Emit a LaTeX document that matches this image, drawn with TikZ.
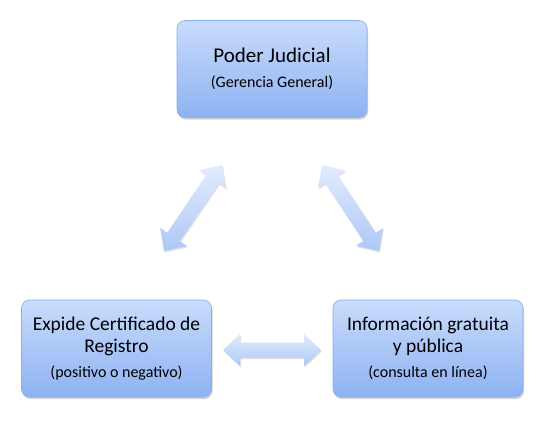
\documentclass[tikz,border=0pt]{standalone}
\usepackage{fontspec}
\setmainfont{Carlito}
\usepackage{tikz}
\usetikzlibrary{calc, shadows}
\definecolor{boxtop}{HTML}{C9DCFC}
\definecolor{boxbot}{HTML}{8DB2F2}
\definecolor{boxline}{HTML}{8AAEE6}
\definecolor{arrtop}{HTML}{E2ECFD}
\definecolor{arrbot}{HTML}{ADC8F5}
\newcommand{\fatarrow}[2]{%
    \path[top color=arrtop, bottom color=arrbot, drop shadow={opacity=0.25, shadow xshift=1pt, shadow yshift=-1.5pt}]
        (#1) -- ($(#1)!17pt!(#2)!16pt!90:(#2)$) -- ($(#1)!17pt!(#2)!7.5pt!90:(#2)$)
        -- ($(#2)!17pt!(#1)!7.5pt!-90:(#1)$) -- ($(#2)!17pt!(#1)!16pt!-90:(#1)$) -- (#2)
        -- ($(#2)!17pt!(#1)!16pt!90:(#1)$) -- ($(#2)!17pt!(#1)!7.5pt!90:(#1)$)
        -- ($(#1)!17pt!(#2)!7.5pt!-90:(#2)$) -- ($(#1)!17pt!(#2)!16pt!-90:(#2)$) -- cycle;}
\newcommand{\subline}[1]{{\fontsize{16}{18}\selectfont #1}}

\begin{document}
\begin{tikzpicture}[x=1pt, y=1pt,
    entity/.style={draw=boxline, line width=0.6pt, rounded corners=8pt, top color=boxtop, bottom color=boxbot,
        minimum width=190pt, minimum height=97pt, align=center, font=\fontsize{19.5}{22}\selectfont,
        drop shadow={opacity=0.35, shadow xshift=1pt, shadow yshift=-2pt}}]
    \useasboundingbox (0, 0) rectangle (545, -420);
    \node[entity] (poder) at (272, -69) {{\fontsize{21}{24}\selectfont Poder Judicial}\\[3pt]\subline{(Gerencia General)}};
    \node[entity] (expide) at (116.5, -348.5) {Expide Certificado de\\Registro\\[3pt]\subline{(positivo o negativo)}};
    \node[entity] (info) at (428, -348.5) {Información gratuita\\y pública\\[3pt]\subline{(consulta en línea)}};
    \coordinate (poder-l) at (222, -165);
    \coordinate (poder-r) at (322, -165);
    \coordinate (expide-t) at (164, -251);
    \coordinate (expide-r) at (223, -350);
    \coordinate (info-t) at (379, -251);
    \coordinate (info-l) at (321, -350);
    \fatarrow{poder-l}{expide-t}
    \fatarrow{poder-r}{info-t}
    \fatarrow{expide-r}{info-l}
\end{tikzpicture}
\end{document}
